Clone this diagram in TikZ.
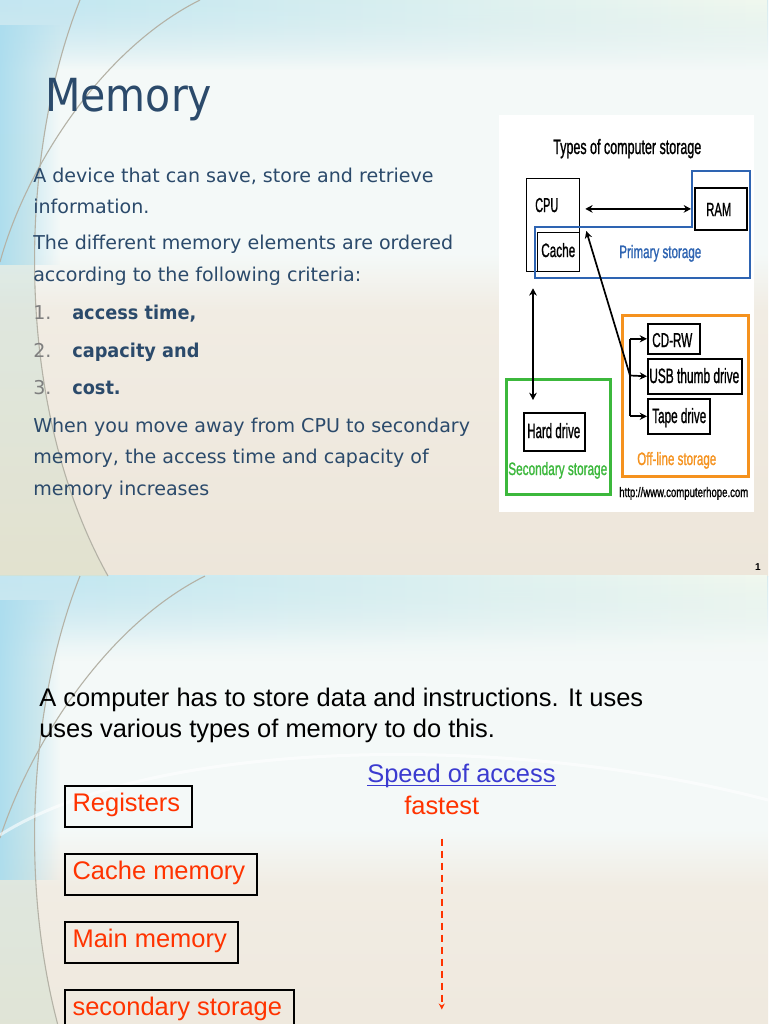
\documentclass[tikz,border=0pt]{standalone}
\usepackage{fontspec}
\usepackage{graphicx}
\usetikzlibrary{calc,arrows.meta,fadings}
\newfontfamily\tah[BoldFeatures={FakeStretch=0.93}]{DejaVu Sans}
\newfontfamily\tahT[FakeStretch=0.9]{DejaVu Sans}
\newfontfamily\ari{Liberation Sans}
\newfontfamily\arib[FakeBold=1.4]{Liberation Sans}
\newlength\px
\setlength\px{0.75pt}
\newcommand\sqz[3]{\resizebox{#1\px}{#2\px}{\arib #3}}
\definecolor{slate}{HTML}{2B4A6B}
\definecolor{numgrey}{HTML}{7F7F7F}
\definecolor{pblue}{HTML}{2E64B2}
\definecolor{ogreen}{HTML}{3CB83C}
\definecolor{orng}{HTML}{F5921E}
\definecolor{redt}{HTML}{FF3300}
\definecolor{bluet}{HTML}{3B3BD0}
\definecolor{bgblue}{HTML}{D3E9EF}
\definecolor{bgwhite}{HTML}{F4F9F8}
\definecolor{bgbeL}{HTML}{F1ECE3}
\definecolor{bgbe}{HTML}{EDE6DA}
\definecolor{stripc}{HTML}{A9DCEE}
\definecolor{arcg}{HTML}{B4B2A6}
\definecolor{tintTop}{HTML}{C8E7F1}
\definecolor{tintBot}{HTML}{DCE0C8}
\definecolor{bandL}{HTML}{BFE6F2}
\definecolor{bandM}{HTML}{C6E0E9}
\definecolor{bandR}{HTML}{F1F8EE}
\pgfdeclareverticalshading{bgslide}{100bp}{color(0bp)=(bgbe); color(25bp)=(bgbe); color(48bp)=(bgbeL); color(53bp)=(bgwhite); color(69bp)=(bgwhite); color(75bp)=(bgblue); color(100bp)=(bgblue)}
\tikzfading[name=fadeR, left color=transparent!0, right color=transparent!100]
\tikzfading[name=fadeD, top color=transparent!0, bottom color=transparent!100]
\begin{document}
\begin{tikzpicture}[x=0.75pt,y=-0.75pt,
  body/.style={inner sep=0pt, anchor=base west, text=slate, font=\tah\fontsize{14.3pt}{16pt}\selectfont},
  numb/.style={body, text=numgrey},
  bodyb/.style={body, font=\tah\bfseries\fontsize{14.3pt}{16pt}\selectfont},
  ttl/.style={inner sep=0pt, anchor=base west, text=slate, font=\tahT\fontsize{34.2pt}{36pt}\selectfont},
  lbl/.style={inner sep=0pt, anchor=base west},
  dbox/.style={draw=black, line width=1.3\px, inner sep=0pt},
  darr/.style={line width=1.7\px, -{Stealth[length=5.5pt,width=5.5pt]}},
  dblarr/.style={line width=1.8\px, {Stealth[length=5.5pt,width=5.8pt]}-{Stealth[length=5.5pt,width=5.8pt]}},
  grp/.style={line width=2.5\px, inner sep=0pt, anchor=north west},
  s2txt/.style={inner sep=0pt, anchor=base west, text=black, font=\ari\fontsize{19.1pt}{22pt}\selectfont},
  mbox/.style={draw=black, line width=2.2\px, inner xsep=7.5\px, inner ysep=0pt, minimum height=41\px,
     anchor=north west, text=redt, font=\ari\fontsize{19.1pt}{22pt}\selectfont, text height=0.84em, text depth=0.09em},
  arcline/.style={draw=arcg, line width=1.1\px}
]
\useasboundingbox (0,0) rectangle (768,1024);
\clip (0,0) rectangle (768,1024);
% ---------- backgrounds ----------
\path[shading=bgslide] (0,0) rectangle (768,576);
\path[shading=bgslide] (0,576) rectangle (768,1152);
\shade[left color=bandL, middle color=bandM, right color=bandR, path fading=fadeD] (0,0) rectangle (768,70);
\shade[left color=bandL, middle color=bandM, right color=bandR, path fading=fadeD] (0,576) rectangle (768,660);
\shade[top color=tintTop, bottom color=tintBot, fill opacity=0.6] (0,0) -- (80,0) .. controls (20,150) and (10,400) .. (108,576) -- (0,576) -- cycle;
\shade[top color=tintTop, bottom color=tintBot, fill opacity=0.6] (0,576) -- (80,576) .. controls (20,726) and (10,976) .. (108,1152) -- (0,1152) -- cycle;
\fill[stripc, path fading=fadeR, fill opacity=0.9] (0,25) rectangle (60,265);
\fill[stripc, path fading=fadeR, fill opacity=0.9] (0,600) rectangle (60,880);
\draw[arcline] (80,0) .. controls (20,150) and (10,400) .. (108,576);
\draw[arcline] (200,0) .. controls (100,50) and (25,170) .. (0,262);
\draw[arcline] (80,576) .. controls (20,726) and (10,976) .. (108,1152);
\draw[arcline] (205,576) .. controls (105,626) and (30,746) .. (0,838);
\draw[white, line width=3\px, opacity=0.6] (0,835) .. controls (150,740) and (500,730) .. (768,800);
% ---------- slide 1 text ----------
\node[ttl] (title) at (45,112) {Memory};
\node[body] (l1) at (33,182) {A device that can save, store and retrieve};
\node[body] (l2) at (33,213) {information.};
\node[body] (l3) at (33,249) {The different memory elements are ordered};
\node[body] (l4) at (33,281) {according to the following criteria:};
\node[numb] (n1) at (33,319) {1.};
\node[bodyb] (i1) at (72,319) {access time,};
\node[numb] (n2) at (33,357) {2.};
\node[bodyb] (i2) at (72,357) {capacity and};
\node[numb] (n3) at (33,394) {3.};
\node[bodyb] (i3) at (72,394) {cost.};
\node[body] (l5) at (33,432) {When you move away from CPU to secondary};
\node[body] (l6) at (33,463) {memory, the access time and capacity of};
\node[body] (l7) at (33,495) {memory increases};
\node[inner sep=0pt, anchor=base east, font=\ari\bfseries\fontsize{7.5pt}{8pt}\selectfont] (pg) at (761,570) {1};
% ---------- diagram ----------
\fill[white] (499,115) rectangle (754,512);
\node[lbl] (dtitle) at (553,154) {\sqz{148}{15}{Types of computer storage}};
\node[dbox, minimum width=53\px, minimum height=93\px, anchor=north west] (cpu) at (526,178) {};
\node[dbox, minimum width=42\px, minimum height=39\px, anchor=north west] (cache) at (537,232) {};
\node[lbl] (cpul) at (535,212) {\sqz{23}{14}{CPU}};
\node[lbl] (cachel) at (541,257) {\sqz{34}{14}{Cache}};
\draw[pblue, line width=2.5\px] (535,227) -- (692,227) -- (692,171) -- (750,171) -- (750,278) -- (535,278) -- cycle;
\node[dbox, line width=1.8\px, minimum width=52\px, minimum height=42\px, anchor=north west] (ram) at (694,187) {};
\node[lbl] (raml) at (706,216) {\sqz{25}{13}{RAM}};
\node[lbl] (priml) at (619,258) {\sqz{82}{13}{\color{pblue}Primary storage}};
% secondary
\node[grp, draw=ogreen, minimum width=104\px, minimum height=115\px] (sec) at (505,378) {};
\node[dbox, line width=1.6\px, minimum width=61\px, minimum height=38\px, anchor=north west] (hd) at (523,412) {};
\node[lbl] (hdl) at (527,438) {\sqz{53}{15}{Hard drive}};
\node[lbl] (secl) at (508,475) {\sqz{99}{13}{\color{ogreen}Secondary storage}};
% offline
\node[grp, draw=orng, minimum width=126\px, minimum height=161\px] (off) at (621,314) {};
\node[dbox, line width=1.6\px, minimum width=52\px, minimum height=30\px, anchor=north west] (cd) at (647,323) {};
\node[dbox, line width=1.6\px, minimum width=94\px, minimum height=35\px, anchor=north west] (usb) at (647,358) {};
\node[dbox, line width=1.6\px, minimum width=62\px, minimum height=35\px, anchor=north west] (tape) at (647,398) {};
\node[lbl] (cdl) at (652,347) {\sqz{40}{14}{CD-RW}};
\node[lbl] (usbl) at (649,383) {\sqz{90}{15}{USB thumb drive}};
\node[lbl] (tapel) at (652,423) {\sqz{54}{15}{Tape drive}};
\node[lbl] (offl) at (637,465) {\sqz{79}{13}{\color{orng}Off-line storage}};
\node[lbl] (url) at (619,497) {\sqz{129}{10}{http://www.computerhope.com}};
% connectors
\coordinate (j) at (630,375.5);
\coordinate (va) at ($(cpu.south west)+(7,0)$);
\draw[line width=1.7\px] (j |- cd.west) -- (j |- tape.west);
\draw[darr] (j |- cd.west) -- (cd.west);
\draw[darr] (j) -- (usb.west);
\draw[darr] (j |- tape.west) -- (tape.west);
\draw[darr] (j) -- ($(cache.north east)+(6,-1)$);
\draw[dblarr, shorten <=5\px, shorten >=3\px] (cpu.east |- ram.west) -- (ram.west);
\draw[dblarr, shorten <=16\px, shorten >=12\px] (va) -- (va |- hd.north);
% ---------- slide 2 ----------
\node[s2txt] (s2a) at (39,706) {A computer has to store data and instructions. It uses};
\node[s2txt] (s2b) at (39,737) {uses various types of memory to do this.};
\node[s2txt, text=bluet] (speed) at (367,782) {Speed of access};
\draw[bluet, line width=1.3\px] ([yshift=-3.5\px]speed.base west) -- ([yshift=-3.5\px]speed.base east);
\node[s2txt, text=redt] (fast) at (404,814) {fastest};
\draw[redt, line width=2\px, dash pattern=on 7\px off 5\px, -{Stealth[length=4.5pt,width=4.5pt]}] ($(fast.south)+(0,24)$) -- ($(fast.south)+(0,195)$);
\node[mbox] (reg) at (64,785) {Registers\kern3pt};
\node[mbox] (cachem) at (64,853) {Cache memory\kern3pt};
\node[mbox] (mainm) at (64,921) {Main memory\kern3pt};
\node[mbox] (secm) at (64,989) {secondary storage\kern3pt};
\end{tikzpicture}
\end{document}
